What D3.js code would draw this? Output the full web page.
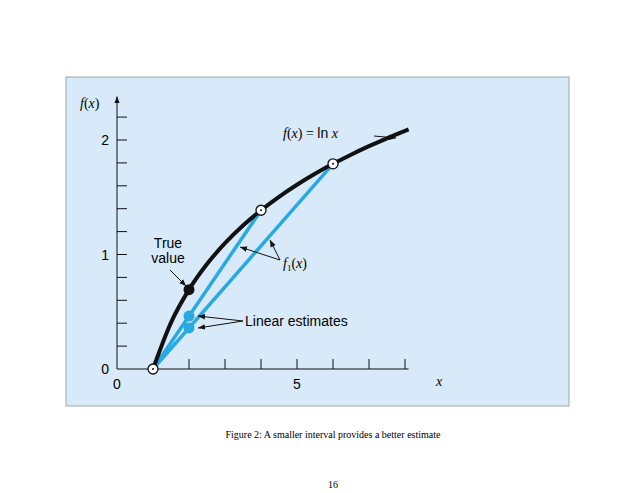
<!DOCTYPE html><html><head><script src="https://cdn.jsdelivr.net/npm/d3@7"></script>
<style>body{margin:0;background:#fff}</style></head><body><script>
const curveX=[1,1.5,2,2.5,3,3.5,4,4.5,5,5.5,6,6.5,7,7.5,8,8.1];
const curveY=curveX.map(Math.log);
const sampleX=[1,4,6];
const trueX=2;
const estimates=[{x0:1,x1:4},{x0:1,x1:6}];
const yTicks=[0,1,2], xTickLabels=[0,5];
const W=638,H=493;
const svg=d3.select("body").append("svg").attr("width",W).attr("height",H);
svg.append("defs").append("marker").attr("id","ah").attr("viewBox","0 0 10 10").attr("refX",10).attr("refY",5)
 .attr("markerWidth",7).attr("markerHeight",7).attr("orient","auto").append("path").attr("d","M0,1L10,5L0,9Z").attr("fill","#111");
svg.append("rect").attr("x",66).attr("y",77).attr("width",503).attr("height",329).attr("fill","#d8eaf9").attr("stroke","#9aa").attr("stroke-width",1);
const x=d3.scaleLinear().domain([0,5]).range([117,297]);
const y=d3.scaleLinear().domain([0,2]).range([369,140]);
const g=svg.append("g");
g.append("line").attr("x1",x(0)).attr("x2",x(8.1)).attr("y1",y(0)).attr("y2",y(0)).attr("stroke","#111");
g.append("line").attr("x1",x(0)).attr("x2",x(0)).attr("y1",y(0)).attr("y2",y(2.38)).attr("stroke","#111").attr("marker-end","url(#ah)");
d3.range(1,12).map(i=>i*0.2).forEach(v=>g.append("line").attr("x1",x(0)).attr("x2",x(0)+10).attr("y1",y(v)).attr("y2",y(v)).attr("stroke","#111"));
d3.range(2,9).forEach(v=>g.append("line").attr("x1",x(v)).attr("x2",x(v)).attr("y1",y(0)).attr("y2",y(0)-10).attr("stroke","#111"));
const sans="Liberation Sans, Arial, sans-serif", serif="Liberation Serif, Times New Roman, serif";
yTicks.forEach(v=>g.append("text").attr("x",x(0)-8).attr("y",y(v)+5).attr("text-anchor","end").attr("font-family",sans).attr("font-size",14).text(v));
xTickLabels.forEach(v=>g.append("text").attr("x",x(v)).attr("y",y(0)+20).attr("text-anchor","middle").attr("font-family",sans).attr("font-size",14).text(v));
g.append("text").attr("x",80).attr("y",108).attr("font-family",serif).attr("font-size",14).html("<tspan font-style='italic'>f</tspan>(<tspan font-style='italic'>x</tspan>)");
g.append("text").attr("x",436).attr("y",386).attr("font-family",serif).attr("font-style","italic").attr("font-size",14).text("x");
estimates.forEach(e=>g.append("line").attr("x1",x(e.x0)).attr("y1",y(Math.log(e.x0))).attr("x2",x(e.x1)).attr("y2",y(Math.log(e.x1))).attr("stroke","#29a9e1").attr("stroke-width",3.5));
g.append("path").datum(curveX.map((d,i)=>[d,curveY[i]])).attr("fill","none").attr("stroke","#111").attr("stroke-width",4)
 .attr("d",d3.line().x(d=>x(d[0])).y(d=>y(d[1])).curve(d3.curveMonotoneX));
estimates.forEach(e=>{const v=Math.log(e.x1)/(e.x1-e.x0)*(trueX-e.x0);
 g.append("circle").attr("cx",x(trueX)).attr("cy",y(v)).attr("r",5.5).attr("fill","#29a9e1");});
g.append("circle").attr("cx",x(trueX)).attr("cy",y(Math.log(trueX))).attr("r",5.5).attr("fill","#111");
sampleX.forEach(v=>{g.append("circle").attr("cx",x(v)).attr("cy",y(Math.log(v))).attr("r",5).attr("fill","#fff").attr("stroke","#111").attr("stroke-width",1.3);
 g.append("circle").attr("cx",x(v)).attr("cy",y(Math.log(v))).attr("r",1).attr("fill","#111");});
const arrow=(x1,y1,x2,y2)=>g.append("line").attr("x1",x1).attr("y1",y1).attr("x2",x2).attr("y2",y2).attr("stroke","#111").attr("stroke-width",1).attr("marker-end","url(#ah)");
g.append("text").attr("x",168).attr("y",248).attr("text-anchor","middle").attr("font-family",sans).attr("font-size",14).text("True");
g.append("text").attr("x",168).attr("y",263).attr("text-anchor","middle").attr("font-family",sans).attr("font-size",14).text("value");
arrow(170,270,186,286);
g.append("text").attr("x",283).attr("y",268).attr("font-family",serif).attr("font-size",14).html("<tspan font-style='italic'>f</tspan><tspan font-size='9' dy='3'>1</tspan><tspan dy='-3'>(</tspan><tspan font-style='italic'>x</tspan>)");
arrow(280,260,240,247); arrow(280,260,270,240);
g.append("text").attr("x",245).attr("y",326).attr("font-family",sans).attr("font-size",14).text("Linear estimates");
arrow(243,321,198,316); arrow(243,321,198,328);
g.append("text").attr("x",283).attr("y",138).attr("font-family",serif).attr("font-size",14).html("<tspan font-style='italic'>f</tspan>(<tspan font-style='italic'>x</tspan>) = <tspan font-family='"+sans+"'>ln</tspan> <tspan font-style='italic'>x</tspan>");
arrow(374,136,396,138);
svg.append("text").attr("x",333).attr("y",438).attr("text-anchor","middle").attr("font-family",serif).attr("font-size",10).text("Figure 2: A smaller interval provides a better estimate");
svg.append("text").attr("x",333).attr("y",488).attr("text-anchor","middle").attr("font-family",serif).attr("font-size",10).text("16");
</script></body></html>
